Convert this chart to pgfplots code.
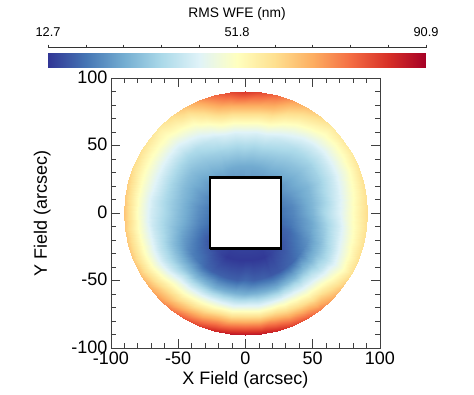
\documentclass[border=0pt]{standalone}
\usepackage{fontspec}
\setmainfont{Liberation Sans}
\usepackage{pgfplots}
\pgfplotsset{compat=1.18}
\usetikzlibrary{calc}

\begin{document}
\begin{tikzpicture}[x=1pt,y=1pt]
\useasboundingbox (-111,-47) rectangle (363,348);
\begin{axis}[
  at={(0,0)}, anchor=south west,
  scale only axis, width=269pt, height=270pt,
  xmin=-100, xmax=100, ymin=-100, ymax=100,
  xtick={-100,-50,0,50,100}, ytick={-100,-50,0,50,100},
  minor tick num=4,
  tick align=inside,
  major tick length=9pt, minor tick length=5pt,
  axis line style={draw=black!75, line width=0.8pt},
  every tick/.style={black!75, line width=0.8pt},
  xlabel={X Field (arcsec)}, ylabel={Y Field (arcsec)},
  ylabel shift=14pt,
  label style={font=\fontsize{18}{20}\selectfont},
  tick label style={font=\fontsize{18}{20}\selectfont},
  yticklabel style={yshift=1pt},
  /pgf/number format/assume math mode=true,
  colormap={rdylbu}{rgb255=(49,54,149) rgb255=(69,117,180) rgb255=(116,173,209) rgb255=(171,217,233) rgb255=(224,243,248) rgb255=(255,255,191) rgb255=(254,224,144) rgb255=(253,174,97) rgb255=(244,109,67) rgb255=(215,48,39) rgb255=(165,0,38)},
  point meta min=12.7, point meta max=90.9,
  colorbar horizontal,
  colorbar style={
    at={($(parent axis.south west)+(-63pt,289pt)$)}, anchor=south west,
    scale only axis, width=378pt, height=20pt,
    xtick={12.7,51.8,90.9}, xticklabels={12.7,51.8,90.9}, minor x tick num=4,
    xticklabel pos=right, xtick pos=right,
    tick align=outside,
    major tick length=3pt, minor tick length=3pt,
    axis line style={draw=none},
    every tick/.style={black!80, line width=0.6pt},
    tick label style={font=\fontsize{12.8}{14}\selectfont},
    xticklabel shift=4pt,
    extra description/.code={\draw[black!80, line width=0.6pt] (rel axis cs:0,1) -- (rel axis cs:1,1);},
    title={RMS WFE (nm)},
    title style={font=\fontsize{13.8}{15}\selectfont, at={(0.5,1)}, anchor=base, yshift=24pt},
  },
]
% RMS WFE field in polar form: (angle deg, radius arcsec) [nm]
\addplot[surf, shader=interp, data cs=polar, mesh/cols=49, point meta=explicit] coordinates {
(0,20)[19] (7.5,20)[19] (15,20)[20] (22.5,20)[20] (30,20)[21] (37.5,20)[21] (45,20)[22] (52.5,20)[22] (60,20)[23] (67.5,20)[23] (75,20)[24] (82.5,20)[24] (90,20)[25] (97.5,20)[24] (105,20)[24] (112.5,20)[23] (120,20)[23] (127.5,20)[22] (135,20)[22] (142.5,20)[21] (150,20)[21] (157.5,20)[20] (165,20)[20] (172.5,20)[19] (180,20)[19] (187.5,20)[18] (195,20)[18] (202.5,20)[17] (210,20)[17] (217.5,20)[16] (225,20)[16] (232.5,20)[15] (240,20)[15] (247.5,20)[15] (255,20)[15] (262.5,20)[15] (270,20)[15] (277.5,20)[15] (285,20)[15] (292.5,20)[15] (300,20)[15] (307.5,20)[15] (315,20)[16] (322.5,20)[16] (330,20)[17] (337.5,20)[17] (345,20)[18] (352.5,20)[18] (360,20)[19]

(0,35)[23] (7.5,35)[23] (15,35)[24] (22.5,35)[25] (30,35)[26] (37.5,35)[26] (45,35)[27] (52.5,35)[27] (60,35)[28] (67.5,35)[28] (75,35)[28] (82.5,35)[28] (90,35)[28] (97.5,35)[28] (105,35)[28] (112.5,35)[28] (120,35)[28] (127.5,35)[27] (135,35)[27] (142.5,35)[26] (150,35)[26] (157.5,35)[25] (165,35)[25] (172.5,35)[24] (180,35)[24] (187.5,35)[23] (195,35)[22] (202.5,35)[20] (210,35)[18] (217.5,35)[17] (225,35)[16] (232.5,35)[15] (240,35)[14] (247.5,35)[13] (255,35)[13] (262.5,35)[13] (270,35)[13] (277.5,35)[13] (285,35)[13] (292.5,35)[13] (300,35)[14] (307.5,35)[15] (315,35)[16] (322.5,35)[17] (330,35)[18] (337.5,35)[19] (345,35)[21] (352.5,35)[22] (360,35)[23]

(0,50)[30] (7.5,50)[30] (15,50)[30] (22.5,50)[30] (30,50)[31] (37.5,50)[31] (45,50)[32] (52.5,50)[33] (60,50)[34] (67.5,50)[35] (75,50)[36] (82.5,50)[36] (90,50)[37] (97.5,50)[36] (105,50)[36] (112.5,50)[35] (120,50)[34] (127.5,50)[33] (135,50)[32] (142.5,50)[31] (150,50)[31] (157.5,50)[31] (165,50)[31] (172.5,50)[31] (180,50)[31] (187.5,50)[30] (195,50)[28] (202.5,50)[26] (210,50)[24] (217.5,50)[22] (225,50)[21] (232.5,50)[19] (240,50)[18] (247.5,50)[18] (255,50)[18] (262.5,50)[18] (270,50)[19] (277.5,50)[18] (285,50)[18] (292.5,50)[17] (300,50)[17] (307.5,50)[18] (315,50)[19] (322.5,50)[21] (330,50)[23] (337.5,50)[25] (345,50)[27] (352.5,50)[28] (360,50)[30]

(0,60)[37] (7.5,60)[36] (15,60)[36] (22.5,60)[35] (30,60)[35] (37.5,60)[35] (45,60)[36] (52.5,60)[37] (60,60)[39] (67.5,60)[41] (75,60)[43] (82.5,60)[43] (90,60)[44] (97.5,60)[43] (105,60)[43] (112.5,60)[41] (120,60)[39] (127.5,60)[37] (135,60)[36] (142.5,60)[36] (150,60)[36] (157.5,60)[36] (165,60)[36] (172.5,60)[36] (180,60)[36] (187.5,60)[35] (195,60)[34] (202.5,60)[32] (210,60)[31] (217.5,60)[31] (225,60)[31] (232.5,60)[30] (240,60)[30] (247.5,60)[29] (255,60)[29] (262.5,60)[29] (270,60)[29] (277.5,60)[29] (285,60)[29] (292.5,60)[29] (300,60)[30] (307.5,60)[30] (315,60)[31] (322.5,60)[30] (330,60)[30] (337.5,60)[31] (345,60)[33] (352.5,60)[35] (360,60)[37]

(0,70)[44] (7.5,70)[43] (15,70)[42] (22.5,70)[41] (30,70)[41] (37.5,70)[41] (45,70)[42] (52.5,70)[44] (60,70)[47] (67.5,70)[50] (75,70)[54] (82.5,70)[55] (90,70)[56] (97.5,70)[55] (105,70)[54] (112.5,70)[50] (120,70)[47] (127.5,70)[45] (135,70)[43] (142.5,70)[43] (150,70)[43] (157.5,70)[43] (165,70)[43] (172.5,70)[42] (180,70)[42] (187.5,70)[41] (195,70)[41] (202.5,70)[40] (210,70)[40] (217.5,70)[42] (225,70)[45] (232.5,70)[45] (240,70)[46] (247.5,70)[46] (255,70)[46] (262.5,70)[46] (270,70)[46] (277.5,70)[46] (285,70)[46] (292.5,70)[46] (300,70)[46] (307.5,70)[44] (315,70)[43] (322.5,70)[40] (330,70)[38] (337.5,70)[39] (345,70)[41] (352.5,70)[42] (360,70)[44]

(0,80)[52] (7.5,80)[51] (15,80)[50] (22.5,80)[49] (30,80)[49] (37.5,80)[49] (45,80)[50] (52.5,80)[53] (60,80)[56] (67.5,80)[60] (75,80)[65] (82.5,80)[67] (90,80)[68] (97.5,80)[67] (105,80)[65] (112.5,80)[60] (120,80)[55] (127.5,80)[53] (135,80)[51] (142.5,80)[51] (150,80)[51] (157.5,80)[51] (165,80)[51] (172.5,80)[51] (180,80)[51] (187.5,80)[51] (195,80)[51] (202.5,80)[51] (210,80)[52] (217.5,80)[55] (225,80)[58] (232.5,80)[59] (240,80)[61] (247.5,80)[63] (255,80)[65] (262.5,80)[65] (270,80)[66] (277.5,80)[65] (285,80)[65] (292.5,80)[63] (300,80)[61] (307.5,80)[58] (315,80)[56] (322.5,80)[52] (330,80)[48] (337.5,80)[49] (345,80)[50] (352.5,80)[51] (360,80)[52]

(0,90.5)[60] (7.5,90.5)[59] (15,90.5)[59] (22.5,90.5)[58] (30,90.5)[57] (37.5,90.5)[57] (45,90.5)[57] (52.5,90.5)[61] (60,90.5)[65] (67.5,90.5)[70] (75,90.5)[76] (82.5,90.5)[80] (90,90.5)[83] (97.5,90.5)[80] (105,90.5)[76] (112.5,90.5)[70] (120,90.5)[64] (127.5,90.5)[60] (135,90.5)[57] (142.5,90.5)[58] (150,90.5)[59] (157.5,90.5)[60] (165,90.5)[62] (172.5,90.5)[63] (180,90.5)[64] (187.5,90.5)[63] (195,90.5)[63] (202.5,90.5)[63] (210,90.5)[64] (217.5,90.5)[67] (225,90.5)[70] (232.5,90.5)[74] (240,90.5)[78] (247.5,90.5)[81] (255,90.5)[85] (262.5,90.5)[87] (270,90.5)[88] (277.5,90.5)[87] (285,90.5)[85] (292.5,90.5)[81] (300,90.5)[78] (307.5,90.5)[73] (315,90.5)[68] (322.5,90.5)[63] (330,90.5)[59] (337.5,90.5)[59] (345,90.5)[59] (352.5,90.5)[59] (360,90.5)[60]
};
\addplot[fill=white, draw=black, line width=2.7pt, line join=miter]
  coordinates {(-26.4,-26.4) (26.4,-26.4) (26.4,26.4) (-26.4,26.4) (-26.4,-26.4)};
\end{axis}
\end{tikzpicture}
\end{document}
